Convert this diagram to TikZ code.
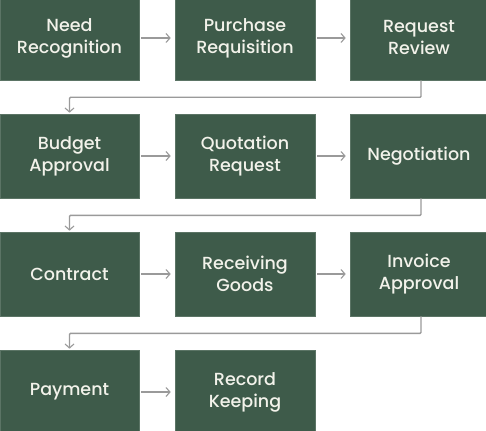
\documentclass[tikz,border=0pt]{standalone}
\usepackage{fontspec}
\setmainfont{Poppins}[UprightFont={* Medium}]
\usetikzlibrary{arrows.meta}
\definecolor{boxgreen}{HTML}{3E5B4A}
\definecolor{boxtext}{HTML}{F2F2EA}
\definecolor{linegray}{HTML}{9A9A9A}
\tikzset{
  stepbox/.style={fill=boxgreen, draw=boxgreen!85!white, line width=0.6pt, text=boxtext,
    minimum width=139pt, minimum height=84pt, inner sep=0pt, align=center,
    font=\fontsize{17.5}{22}\selectfont},
  arr/.style={draw=linegray, line width=1.4pt, -{Straight Barb[length=4pt,width=9pt,line width=1.1pt]}},
  conn/.style={draw=linegray, line width=1.4pt, -{Straight Barb[length=4pt,width=9pt,line width=1.1pt]}, rounded corners=1pt}
}
\begin{document}
\begin{tikzpicture}[x=1pt,y=1pt]
\useasboundingbox (0,0) rectangle (486,-430);
\fill[white] (0,0) rectangle (486,-430);
% row 1
\node[stepbox] (a1) at (69.5,-38) {Need\\Recognition};
\node[stepbox, minimum width=140pt] (a2) at (245,-38) {Purchase\\Requisition};
\node[stepbox, minimum width=138pt] (a3) at (419,-38) {Request\\Review};
% row 2
\node[stepbox] (b1) at (69.5,-156) {Budget\\Approval};
\node[stepbox, minimum width=140pt] (b2) at (245,-156) {Quotation\\Request};
\node[stepbox, minimum width=138pt] (b3) at (419,-156) {Negotiation};
% row 3
\node[stepbox] (c1) at (69.5,-274) {Contract};
\node[stepbox, minimum width=140pt] (c2) at (245,-274) {Receiving\\Goods};
\node[stepbox, minimum width=138pt] (c3) at (419,-274) {Invoice\\Approval};
% row 4
\node[stepbox] (d1) at (69.5,-392) {Payment};
\node[stepbox, minimum width=140pt] (d2) at (245,-392) {Record\\Keeping};
% horizontal arrows
\foreach \p/\q in {a1/a2,a2/a3,b1/b2,b2/b3,c1/c2,c2/c3,d1/d2}{
  \draw[arr, shorten <=2pt, shorten >=4pt] (\p.east) -- (\q.west);
}
% row transitions
\foreach \p/\q in {a3/b1,b3/c1,c3/d1}{
  \draw[conn, shorten >=1pt] ([xshift=2pt]\p.south) -- ++(0,-17) -| (\q.north);
}
\end{tikzpicture}
\end{document}
